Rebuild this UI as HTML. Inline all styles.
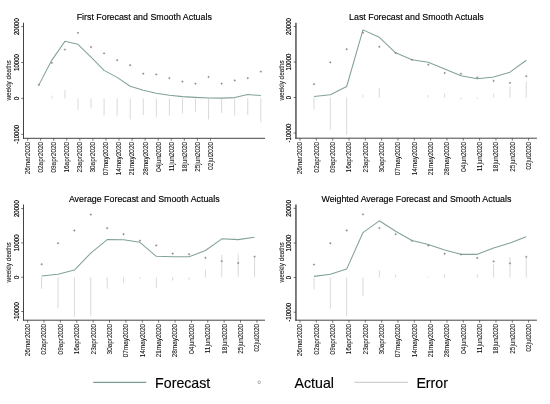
<!DOCTYPE html>
<html><head><meta charset="utf-8"><title>Forecast and Smooth Actuals</title>
<style>html,body{margin:0;padding:0;background:#fff;}svg{display:block}text{font-family:"Liberation Sans",Arial,sans-serif;fill:#000;stroke:#000;stroke-width:0.15px}.xl{stroke-width:0.05px;fill:#111}</style></head><body>
<svg width="550" height="404" viewBox="0 0 550 404">
<rect width="550" height="404" fill="#fff"/>
<g>
<text transform="translate(144.25,20.30) scale(1,1.08)" font-size="8.85" text-anchor="middle">First Forecast and Smooth Actuals</text>
<line x1="38.79" y1="98.40" x2="38.79" y2="98.62" stroke="#cccccc" stroke-width="0.75"/>
<line x1="51.85" y1="98.40" x2="51.85" y2="95.64" stroke="#cccccc" stroke-width="0.75"/>
<line x1="64.91" y1="98.40" x2="64.91" y2="90.18" stroke="#cccccc" stroke-width="0.75"/>
<line x1="77.97" y1="98.40" x2="77.97" y2="109.89" stroke="#cccccc" stroke-width="0.75"/>
<line x1="91.03" y1="98.40" x2="91.03" y2="108.45" stroke="#cccccc" stroke-width="0.75"/>
<line x1="104.09" y1="98.40" x2="104.09" y2="115.42" stroke="#cccccc" stroke-width="0.75"/>
<line x1="117.15" y1="98.40" x2="117.15" y2="115.63" stroke="#cccccc" stroke-width="0.75"/>
<line x1="130.21" y1="98.40" x2="130.21" y2="119.44" stroke="#cccccc" stroke-width="0.75"/>
<line x1="143.27" y1="98.40" x2="143.27" y2="115.09" stroke="#cccccc" stroke-width="0.75"/>
<line x1="156.33" y1="98.40" x2="156.33" y2="117.28" stroke="#cccccc" stroke-width="0.75"/>
<line x1="169.39" y1="98.40" x2="169.39" y2="115.56" stroke="#cccccc" stroke-width="0.75"/>
<line x1="182.45" y1="98.40" x2="182.45" y2="113.41" stroke="#cccccc" stroke-width="0.75"/>
<line x1="195.51" y1="98.40" x2="195.51" y2="112.19" stroke="#cccccc" stroke-width="0.75"/>
<line x1="208.57" y1="98.40" x2="208.57" y2="119.40" stroke="#cccccc" stroke-width="0.75"/>
<line x1="221.63" y1="98.40" x2="221.63" y2="112.90" stroke="#cccccc" stroke-width="0.75"/>
<line x1="234.69" y1="98.40" x2="234.69" y2="115.60" stroke="#cccccc" stroke-width="0.75"/>
<line x1="247.75" y1="98.40" x2="247.75" y2="114.88" stroke="#cccccc" stroke-width="0.75"/>
<line x1="260.81" y1="98.40" x2="260.81" y2="122.38" stroke="#cccccc" stroke-width="0.75"/>
<polyline points="38.79,85.12 51.85,60.09 64.91,41.35 77.97,44.33 91.03,57.12 104.09,70.40 117.15,77.40 130.21,86.19 143.27,90.32 156.33,93.30 169.39,95.28 182.45,96.61 195.51,97.39 208.57,97.90 221.63,98.11 234.69,97.61 247.75,94.59 260.81,95.60" fill="none" stroke="#82a298" stroke-width="1.05" stroke-linejoin="round"/>
<circle cx="38.79" cy="84.90" r="0.7" fill="#a0a0a0" stroke="#7c7c7c" stroke-width="0.55"/>
<circle cx="51.85" cy="62.86" r="0.7" fill="#a0a0a0" stroke="#7c7c7c" stroke-width="0.55"/>
<circle cx="64.91" cy="49.58" r="0.7" fill="#a0a0a0" stroke="#7c7c7c" stroke-width="0.55"/>
<circle cx="77.97" cy="32.85" r="0.7" fill="#a0a0a0" stroke="#7c7c7c" stroke-width="0.55"/>
<circle cx="91.03" cy="47.06" r="0.7" fill="#a0a0a0" stroke="#7c7c7c" stroke-width="0.55"/>
<circle cx="104.09" cy="53.38" r="0.7" fill="#a0a0a0" stroke="#7c7c7c" stroke-width="0.55"/>
<circle cx="117.15" cy="60.17" r="0.7" fill="#a0a0a0" stroke="#7c7c7c" stroke-width="0.55"/>
<circle cx="130.21" cy="65.16" r="0.7" fill="#a0a0a0" stroke="#7c7c7c" stroke-width="0.55"/>
<circle cx="143.27" cy="73.63" r="0.7" fill="#a0a0a0" stroke="#7c7c7c" stroke-width="0.55"/>
<circle cx="156.33" cy="74.42" r="0.7" fill="#a0a0a0" stroke="#7c7c7c" stroke-width="0.55"/>
<circle cx="169.39" cy="78.12" r="0.7" fill="#a0a0a0" stroke="#7c7c7c" stroke-width="0.55"/>
<circle cx="182.45" cy="81.60" r="0.7" fill="#a0a0a0" stroke="#7c7c7c" stroke-width="0.55"/>
<circle cx="195.51" cy="83.61" r="0.7" fill="#a0a0a0" stroke="#7c7c7c" stroke-width="0.55"/>
<circle cx="208.57" cy="76.90" r="0.7" fill="#a0a0a0" stroke="#7c7c7c" stroke-width="0.55"/>
<circle cx="221.63" cy="83.61" r="0.7" fill="#a0a0a0" stroke="#7c7c7c" stroke-width="0.55"/>
<circle cx="234.69" cy="80.41" r="0.7" fill="#a0a0a0" stroke="#7c7c7c" stroke-width="0.55"/>
<circle cx="247.75" cy="78.12" r="0.7" fill="#a0a0a0" stroke="#7c7c7c" stroke-width="0.55"/>
<circle cx="260.81" cy="71.62" r="0.7" fill="#a0a0a0" stroke="#7c7c7c" stroke-width="0.55"/>
<line x1="23.5" y1="22.7" x2="23.5" y2="138.77" stroke="#3a3a3a" stroke-width="0.95"/>
<line x1="23.02" y1="138.3" x2="265.0" y2="138.3" stroke="#3a3a3a" stroke-width="0.95"/>
<line x1="21.20" y1="26.60" x2="23.5" y2="26.60" stroke="#3a3a3a" stroke-width="0.7"/>
<text transform="translate(18.50,26.60) rotate(-90) scale(1,1.18)" font-size="6.1" text-anchor="middle">20000</text>
<line x1="21.20" y1="62.50" x2="23.5" y2="62.50" stroke="#3a3a3a" stroke-width="0.7"/>
<text transform="translate(18.50,62.50) rotate(-90) scale(1,1.18)" font-size="6.1" text-anchor="middle">10000</text>
<line x1="21.20" y1="98.40" x2="23.5" y2="98.40" stroke="#3a3a3a" stroke-width="0.7"/>
<text transform="translate(18.50,98.40) rotate(-90) scale(1,1.18)" font-size="6.1" text-anchor="middle">0</text>
<line x1="21.20" y1="134.30" x2="23.5" y2="134.30" stroke="#3a3a3a" stroke-width="0.7"/>
<text transform="translate(18.50,134.30) rotate(-90) scale(1,1.18)" font-size="6.1" text-anchor="middle">-10000</text>
<text transform="translate(11.40,80.50) rotate(-90)" font-size="6.35" text-anchor="middle" class="xl">weekly deaths</text>
<line x1="27.60" y1="138.3" x2="27.60" y2="140.70" stroke="#3a3a3a" stroke-width="0.7"/>
<text transform="translate(30.00,141.95) rotate(-90) scale(1,1.1)" font-size="6.4" text-anchor="end" class="xl">26mar2020</text>
<line x1="40.66" y1="138.3" x2="40.66" y2="140.70" stroke="#3a3a3a" stroke-width="0.7"/>
<text transform="translate(43.06,141.95) rotate(-90) scale(1,1.1)" font-size="6.4" text-anchor="end" class="xl">02apr2020</text>
<line x1="53.72" y1="138.3" x2="53.72" y2="140.70" stroke="#3a3a3a" stroke-width="0.7"/>
<text transform="translate(56.12,141.95) rotate(-90) scale(1,1.1)" font-size="6.4" text-anchor="end" class="xl">09apr2020</text>
<line x1="66.78" y1="138.3" x2="66.78" y2="140.70" stroke="#3a3a3a" stroke-width="0.7"/>
<text transform="translate(69.18,141.95) rotate(-90) scale(1,1.1)" font-size="6.4" text-anchor="end" class="xl">16apr2020</text>
<line x1="79.84" y1="138.3" x2="79.84" y2="140.70" stroke="#3a3a3a" stroke-width="0.7"/>
<text transform="translate(82.24,141.95) rotate(-90) scale(1,1.1)" font-size="6.4" text-anchor="end" class="xl">23apr2020</text>
<line x1="92.90" y1="138.3" x2="92.90" y2="140.70" stroke="#3a3a3a" stroke-width="0.7"/>
<text transform="translate(95.30,141.95) rotate(-90) scale(1,1.1)" font-size="6.4" text-anchor="end" class="xl">30apr2020</text>
<line x1="105.96" y1="138.3" x2="105.96" y2="140.70" stroke="#3a3a3a" stroke-width="0.7"/>
<text transform="translate(108.36,141.95) rotate(-90) scale(1,1.1)" font-size="6.4" text-anchor="end" class="xl">07may2020</text>
<line x1="119.02" y1="138.3" x2="119.02" y2="140.70" stroke="#3a3a3a" stroke-width="0.7"/>
<text transform="translate(121.42,141.95) rotate(-90) scale(1,1.1)" font-size="6.4" text-anchor="end" class="xl">14may2020</text>
<line x1="132.08" y1="138.3" x2="132.08" y2="140.70" stroke="#3a3a3a" stroke-width="0.7"/>
<text transform="translate(134.48,141.95) rotate(-90) scale(1,1.1)" font-size="6.4" text-anchor="end" class="xl">21may2020</text>
<line x1="145.14" y1="138.3" x2="145.14" y2="140.70" stroke="#3a3a3a" stroke-width="0.7"/>
<text transform="translate(147.54,141.95) rotate(-90) scale(1,1.1)" font-size="6.4" text-anchor="end" class="xl">28may2020</text>
<line x1="158.20" y1="138.3" x2="158.20" y2="140.70" stroke="#3a3a3a" stroke-width="0.7"/>
<text transform="translate(160.60,141.95) rotate(-90) scale(1,1.1)" font-size="6.4" text-anchor="end" class="xl">04jun2020</text>
<line x1="171.26" y1="138.3" x2="171.26" y2="140.70" stroke="#3a3a3a" stroke-width="0.7"/>
<text transform="translate(173.66,141.95) rotate(-90) scale(1,1.1)" font-size="6.4" text-anchor="end" class="xl">11jun2020</text>
<line x1="184.32" y1="138.3" x2="184.32" y2="140.70" stroke="#3a3a3a" stroke-width="0.7"/>
<text transform="translate(186.72,141.95) rotate(-90) scale(1,1.1)" font-size="6.4" text-anchor="end" class="xl">18jun2020</text>
<line x1="197.38" y1="138.3" x2="197.38" y2="140.70" stroke="#3a3a3a" stroke-width="0.7"/>
<text transform="translate(199.78,141.95) rotate(-90) scale(1,1.1)" font-size="6.4" text-anchor="end" class="xl">25jun2020</text>
<line x1="210.44" y1="138.3" x2="210.44" y2="140.70" stroke="#3a3a3a" stroke-width="0.7"/>
<text transform="translate(212.84,141.95) rotate(-90) scale(1,1.1)" font-size="6.4" text-anchor="end" class="xl">02jul2020</text>
</g>
<g>
<text transform="translate(416.42,20.30) scale(1,1.08)" font-size="8.85" text-anchor="middle">Last Forecast and Smooth Actuals</text>
<line x1="314.00" y1="97.50" x2="314.00" y2="109.78" stroke="#cccccc" stroke-width="0.75"/>
<line x1="330.33" y1="97.50" x2="330.33" y2="129.81" stroke="#cccccc" stroke-width="0.75"/>
<line x1="346.66" y1="97.50" x2="346.66" y2="134.78" stroke="#cccccc" stroke-width="0.75"/>
<line x1="362.99" y1="97.50" x2="362.99" y2="94.70" stroke="#cccccc" stroke-width="0.75"/>
<line x1="379.32" y1="97.50" x2="379.32" y2="88.09" stroke="#cccccc" stroke-width="0.75"/>
<line x1="395.65" y1="97.50" x2="395.65" y2="97.36" stroke="#cccccc" stroke-width="0.75"/>
<line x1="411.98" y1="97.50" x2="411.98" y2="97.54" stroke="#cccccc" stroke-width="0.75"/>
<line x1="428.31" y1="97.50" x2="428.31" y2="95.09" stroke="#cccccc" stroke-width="0.75"/>
<line x1="444.64" y1="97.50" x2="444.64" y2="93.59" stroke="#cccccc" stroke-width="0.75"/>
<line x1="460.97" y1="97.50" x2="460.97" y2="99.52" stroke="#cccccc" stroke-width="0.75"/>
<line x1="477.30" y1="97.50" x2="477.30" y2="98.81" stroke="#cccccc" stroke-width="0.75"/>
<line x1="493.63" y1="97.50" x2="493.63" y2="93.70" stroke="#cccccc" stroke-width="0.75"/>
<line x1="509.96" y1="97.50" x2="509.96" y2="86.78" stroke="#cccccc" stroke-width="0.75"/>
<line x1="526.29" y1="97.50" x2="526.29" y2="81.49" stroke="#cccccc" stroke-width="0.75"/>
<polyline points="314.00,96.44 330.33,94.66 346.66,86.50 362.99,29.87 379.32,37.33 395.65,52.84 411.98,59.73 428.31,62.21 444.64,69.10 460.97,75.81 477.30,78.76 493.63,77.09 509.96,72.15 526.29,60.23" fill="none" stroke="#82a298" stroke-width="1.05" stroke-linejoin="round"/>
<circle cx="314.00" cy="84.15" r="0.7" fill="#a0a0a0" stroke="#7c7c7c" stroke-width="0.55"/>
<circle cx="330.33" cy="62.35" r="0.7" fill="#a0a0a0" stroke="#7c7c7c" stroke-width="0.55"/>
<circle cx="346.66" cy="49.22" r="0.7" fill="#a0a0a0" stroke="#7c7c7c" stroke-width="0.55"/>
<circle cx="362.99" cy="32.68" r="0.7" fill="#a0a0a0" stroke="#7c7c7c" stroke-width="0.55"/>
<circle cx="379.32" cy="46.73" r="0.7" fill="#a0a0a0" stroke="#7c7c7c" stroke-width="0.55"/>
<circle cx="395.65" cy="52.98" r="0.7" fill="#a0a0a0" stroke="#7c7c7c" stroke-width="0.55"/>
<circle cx="411.98" cy="59.69" r="0.7" fill="#a0a0a0" stroke="#7c7c7c" stroke-width="0.55"/>
<circle cx="428.31" cy="64.63" r="0.7" fill="#a0a0a0" stroke="#7c7c7c" stroke-width="0.55"/>
<circle cx="444.64" cy="73.00" r="0.7" fill="#a0a0a0" stroke="#7c7c7c" stroke-width="0.55"/>
<circle cx="460.97" cy="73.79" r="0.7" fill="#a0a0a0" stroke="#7c7c7c" stroke-width="0.55"/>
<circle cx="477.30" cy="77.44" r="0.7" fill="#a0a0a0" stroke="#7c7c7c" stroke-width="0.55"/>
<circle cx="493.63" cy="80.89" r="0.7" fill="#a0a0a0" stroke="#7c7c7c" stroke-width="0.55"/>
<circle cx="509.96" cy="82.87" r="0.7" fill="#a0a0a0" stroke="#7c7c7c" stroke-width="0.55"/>
<circle cx="526.29" cy="76.24" r="0.7" fill="#a0a0a0" stroke="#7c7c7c" stroke-width="0.55"/>
<line x1="295.95" y1="22.7" x2="295.95" y2="138.67" stroke="#3a3a3a" stroke-width="1.3"/>
<line x1="295.30" y1="138.2" x2="536.9" y2="138.2" stroke="#3a3a3a" stroke-width="0.95"/>
<line x1="293.65" y1="26.50" x2="295.95" y2="26.50" stroke="#3a3a3a" stroke-width="0.7"/>
<text transform="translate(290.95,26.50) rotate(-90) scale(1,1.18)" font-size="6.1" text-anchor="middle">20000</text>
<line x1="293.65" y1="62.00" x2="295.95" y2="62.00" stroke="#3a3a3a" stroke-width="0.7"/>
<text transform="translate(290.95,62.00) rotate(-90) scale(1,1.18)" font-size="6.1" text-anchor="middle">10000</text>
<line x1="293.65" y1="97.50" x2="295.95" y2="97.50" stroke="#3a3a3a" stroke-width="0.7"/>
<text transform="translate(290.95,97.50) rotate(-90) scale(1,1.18)" font-size="6.1" text-anchor="middle">0</text>
<line x1="293.65" y1="133.00" x2="295.95" y2="133.00" stroke="#3a3a3a" stroke-width="0.7"/>
<text transform="translate(290.95,133.00) rotate(-90) scale(1,1.18)" font-size="6.1" text-anchor="middle">-10000</text>
<text transform="translate(283.85,80.45) rotate(-90)" font-size="6.35" text-anchor="middle" class="xl">weekly deaths</text>
<line x1="300.00" y1="138.2" x2="300.00" y2="140.60" stroke="#3a3a3a" stroke-width="0.7"/>
<text transform="translate(302.40,141.85) rotate(-90) scale(1,1.1)" font-size="6.4" text-anchor="end" class="xl">26mar2020</text>
<line x1="316.33" y1="138.2" x2="316.33" y2="140.60" stroke="#3a3a3a" stroke-width="0.7"/>
<text transform="translate(318.73,141.85) rotate(-90) scale(1,1.1)" font-size="6.4" text-anchor="end" class="xl">02apr2020</text>
<line x1="332.66" y1="138.2" x2="332.66" y2="140.60" stroke="#3a3a3a" stroke-width="0.7"/>
<text transform="translate(335.06,141.85) rotate(-90) scale(1,1.1)" font-size="6.4" text-anchor="end" class="xl">09apr2020</text>
<line x1="348.99" y1="138.2" x2="348.99" y2="140.60" stroke="#3a3a3a" stroke-width="0.7"/>
<text transform="translate(351.39,141.85) rotate(-90) scale(1,1.1)" font-size="6.4" text-anchor="end" class="xl">16apr2020</text>
<line x1="365.32" y1="138.2" x2="365.32" y2="140.60" stroke="#3a3a3a" stroke-width="0.7"/>
<text transform="translate(367.72,141.85) rotate(-90) scale(1,1.1)" font-size="6.4" text-anchor="end" class="xl">23apr2020</text>
<line x1="381.65" y1="138.2" x2="381.65" y2="140.60" stroke="#3a3a3a" stroke-width="0.7"/>
<text transform="translate(384.05,141.85) rotate(-90) scale(1,1.1)" font-size="6.4" text-anchor="end" class="xl">30apr2020</text>
<line x1="397.98" y1="138.2" x2="397.98" y2="140.60" stroke="#3a3a3a" stroke-width="0.7"/>
<text transform="translate(400.38,141.85) rotate(-90) scale(1,1.1)" font-size="6.4" text-anchor="end" class="xl">07may2020</text>
<line x1="414.31" y1="138.2" x2="414.31" y2="140.60" stroke="#3a3a3a" stroke-width="0.7"/>
<text transform="translate(416.71,141.85) rotate(-90) scale(1,1.1)" font-size="6.4" text-anchor="end" class="xl">14may2020</text>
<line x1="430.64" y1="138.2" x2="430.64" y2="140.60" stroke="#3a3a3a" stroke-width="0.7"/>
<text transform="translate(433.04,141.85) rotate(-90) scale(1,1.1)" font-size="6.4" text-anchor="end" class="xl">21may2020</text>
<line x1="446.97" y1="138.2" x2="446.97" y2="140.60" stroke="#3a3a3a" stroke-width="0.7"/>
<text transform="translate(449.37,141.85) rotate(-90) scale(1,1.1)" font-size="6.4" text-anchor="end" class="xl">28may2020</text>
<line x1="463.30" y1="138.2" x2="463.30" y2="140.60" stroke="#3a3a3a" stroke-width="0.7"/>
<text transform="translate(465.70,141.85) rotate(-90) scale(1,1.1)" font-size="6.4" text-anchor="end" class="xl">04jun2020</text>
<line x1="479.63" y1="138.2" x2="479.63" y2="140.60" stroke="#3a3a3a" stroke-width="0.7"/>
<text transform="translate(482.03,141.85) rotate(-90) scale(1,1.1)" font-size="6.4" text-anchor="end" class="xl">11jun2020</text>
<line x1="495.96" y1="138.2" x2="495.96" y2="140.60" stroke="#3a3a3a" stroke-width="0.7"/>
<text transform="translate(498.36,141.85) rotate(-90) scale(1,1.1)" font-size="6.4" text-anchor="end" class="xl">18jun2020</text>
<line x1="512.29" y1="138.2" x2="512.29" y2="140.60" stroke="#3a3a3a" stroke-width="0.7"/>
<text transform="translate(514.69,141.85) rotate(-90) scale(1,1.1)" font-size="6.4" text-anchor="end" class="xl">25jun2020</text>
<line x1="528.62" y1="138.2" x2="528.62" y2="140.60" stroke="#3a3a3a" stroke-width="0.7"/>
<text transform="translate(531.02,141.85) rotate(-90) scale(1,1.1)" font-size="6.4" text-anchor="end" class="xl">02jul2020</text>
</g>
<g>
<text transform="translate(144.25,201.50) scale(1,1.08)" font-size="8.85" text-anchor="middle">Average Forecast and Smooth Actuals</text>
<line x1="41.64" y1="277.20" x2="41.64" y2="288.90" stroke="#cccccc" stroke-width="0.75"/>
<line x1="58.02" y1="277.20" x2="58.02" y2="308.17" stroke="#cccccc" stroke-width="0.75"/>
<line x1="74.40" y1="277.20" x2="74.40" y2="316.68" stroke="#cccccc" stroke-width="0.75"/>
<line x1="90.78" y1="277.20" x2="90.78" y2="315.68" stroke="#cccccc" stroke-width="0.75"/>
<line x1="107.16" y1="277.20" x2="107.16" y2="288.66" stroke="#cccccc" stroke-width="0.75"/>
<line x1="123.54" y1="277.20" x2="123.54" y2="282.83" stroke="#cccccc" stroke-width="0.75"/>
<line x1="139.92" y1="277.20" x2="139.92" y2="278.85" stroke="#cccccc" stroke-width="0.75"/>
<line x1="156.30" y1="277.20" x2="156.30" y2="288.07" stroke="#cccccc" stroke-width="0.75"/>
<line x1="172.68" y1="277.20" x2="172.68" y2="280.49" stroke="#cccccc" stroke-width="0.75"/>
<line x1="189.06" y1="277.20" x2="189.06" y2="279.74" stroke="#cccccc" stroke-width="0.75"/>
<line x1="205.44" y1="277.20" x2="205.44" y2="269.93" stroke="#cccccc" stroke-width="0.75"/>
<line x1="221.82" y1="277.20" x2="221.82" y2="254.87" stroke="#cccccc" stroke-width="0.75"/>
<line x1="238.20" y1="277.20" x2="238.20" y2="253.74" stroke="#cccccc" stroke-width="0.75"/>
<line x1="254.58" y1="277.20" x2="254.58" y2="257.89" stroke="#cccccc" stroke-width="0.75"/>
<polyline points="41.64,276.00 58.02,274.22 74.40,270.03 90.78,253.05 107.16,239.61 123.54,239.81 139.92,242.32 156.30,256.31 172.68,256.83 189.06,256.83 205.44,250.55 221.82,238.82 238.20,239.61 254.58,237.34" fill="none" stroke="#82a298" stroke-width="1.05" stroke-linejoin="round"/>
<circle cx="41.64" cy="264.30" r="0.7" fill="#a0a0a0" stroke="#7c7c7c" stroke-width="0.55"/>
<circle cx="58.02" cy="243.24" r="0.7" fill="#a0a0a0" stroke="#7c7c7c" stroke-width="0.55"/>
<circle cx="74.40" cy="230.55" r="0.7" fill="#a0a0a0" stroke="#7c7c7c" stroke-width="0.55"/>
<circle cx="90.78" cy="214.57" r="0.7" fill="#a0a0a0" stroke="#7c7c7c" stroke-width="0.55"/>
<circle cx="107.16" cy="228.15" r="0.7" fill="#a0a0a0" stroke="#7c7c7c" stroke-width="0.55"/>
<circle cx="123.54" cy="234.19" r="0.7" fill="#a0a0a0" stroke="#7c7c7c" stroke-width="0.55"/>
<circle cx="139.92" cy="240.67" r="0.7" fill="#a0a0a0" stroke="#7c7c7c" stroke-width="0.55"/>
<circle cx="156.30" cy="245.44" r="0.7" fill="#a0a0a0" stroke="#7c7c7c" stroke-width="0.55"/>
<circle cx="172.68" cy="253.53" r="0.7" fill="#a0a0a0" stroke="#7c7c7c" stroke-width="0.55"/>
<circle cx="189.06" cy="254.29" r="0.7" fill="#a0a0a0" stroke="#7c7c7c" stroke-width="0.55"/>
<circle cx="205.44" cy="257.82" r="0.7" fill="#a0a0a0" stroke="#7c7c7c" stroke-width="0.55"/>
<circle cx="221.82" cy="261.15" r="0.7" fill="#a0a0a0" stroke="#7c7c7c" stroke-width="0.55"/>
<circle cx="238.20" cy="263.07" r="0.7" fill="#a0a0a0" stroke="#7c7c7c" stroke-width="0.55"/>
<circle cx="254.58" cy="256.65" r="0.7" fill="#a0a0a0" stroke="#7c7c7c" stroke-width="0.55"/>
<line x1="23.5" y1="204.5" x2="23.5" y2="320.67" stroke="#3a3a3a" stroke-width="0.95"/>
<line x1="23.02" y1="320.2" x2="265.0" y2="320.2" stroke="#3a3a3a" stroke-width="0.95"/>
<line x1="21.20" y1="208.60" x2="23.5" y2="208.60" stroke="#3a3a3a" stroke-width="0.7"/>
<text transform="translate(18.50,208.60) rotate(-90) scale(1,1.18)" font-size="6.1" text-anchor="middle">20000</text>
<line x1="21.20" y1="242.90" x2="23.5" y2="242.90" stroke="#3a3a3a" stroke-width="0.7"/>
<text transform="translate(18.50,242.90) rotate(-90) scale(1,1.18)" font-size="6.1" text-anchor="middle">10000</text>
<line x1="21.20" y1="277.20" x2="23.5" y2="277.20" stroke="#3a3a3a" stroke-width="0.7"/>
<text transform="translate(18.50,277.20) rotate(-90) scale(1,1.18)" font-size="6.1" text-anchor="middle">0</text>
<line x1="21.20" y1="311.50" x2="23.5" y2="311.50" stroke="#3a3a3a" stroke-width="0.7"/>
<text transform="translate(18.50,311.50) rotate(-90) scale(1,1.18)" font-size="6.1" text-anchor="middle">-10000</text>
<text transform="translate(11.40,262.35) rotate(-90)" font-size="6.35" text-anchor="middle" class="xl">weekly deaths</text>
<line x1="27.60" y1="320.2" x2="27.60" y2="322.60" stroke="#3a3a3a" stroke-width="0.7"/>
<text transform="translate(30.00,323.85) rotate(-90) scale(1,1.1)" font-size="6.4" text-anchor="end" class="xl">26mar2020</text>
<line x1="43.98" y1="320.2" x2="43.98" y2="322.60" stroke="#3a3a3a" stroke-width="0.7"/>
<text transform="translate(46.38,323.85) rotate(-90) scale(1,1.1)" font-size="6.4" text-anchor="end" class="xl">02apr2020</text>
<line x1="60.36" y1="320.2" x2="60.36" y2="322.60" stroke="#3a3a3a" stroke-width="0.7"/>
<text transform="translate(62.76,323.85) rotate(-90) scale(1,1.1)" font-size="6.4" text-anchor="end" class="xl">09apr2020</text>
<line x1="76.74" y1="320.2" x2="76.74" y2="322.60" stroke="#3a3a3a" stroke-width="0.7"/>
<text transform="translate(79.14,323.85) rotate(-90) scale(1,1.1)" font-size="6.4" text-anchor="end" class="xl">16apr2020</text>
<line x1="93.12" y1="320.2" x2="93.12" y2="322.60" stroke="#3a3a3a" stroke-width="0.7"/>
<text transform="translate(95.52,323.85) rotate(-90) scale(1,1.1)" font-size="6.4" text-anchor="end" class="xl">23apr2020</text>
<line x1="109.50" y1="320.2" x2="109.50" y2="322.60" stroke="#3a3a3a" stroke-width="0.7"/>
<text transform="translate(111.90,323.85) rotate(-90) scale(1,1.1)" font-size="6.4" text-anchor="end" class="xl">30apr2020</text>
<line x1="125.88" y1="320.2" x2="125.88" y2="322.60" stroke="#3a3a3a" stroke-width="0.7"/>
<text transform="translate(128.28,323.85) rotate(-90) scale(1,1.1)" font-size="6.4" text-anchor="end" class="xl">07may2020</text>
<line x1="142.26" y1="320.2" x2="142.26" y2="322.60" stroke="#3a3a3a" stroke-width="0.7"/>
<text transform="translate(144.66,323.85) rotate(-90) scale(1,1.1)" font-size="6.4" text-anchor="end" class="xl">14may2020</text>
<line x1="158.64" y1="320.2" x2="158.64" y2="322.60" stroke="#3a3a3a" stroke-width="0.7"/>
<text transform="translate(161.04,323.85) rotate(-90) scale(1,1.1)" font-size="6.4" text-anchor="end" class="xl">21may2020</text>
<line x1="175.02" y1="320.2" x2="175.02" y2="322.60" stroke="#3a3a3a" stroke-width="0.7"/>
<text transform="translate(177.42,323.85) rotate(-90) scale(1,1.1)" font-size="6.4" text-anchor="end" class="xl">28may2020</text>
<line x1="191.40" y1="320.2" x2="191.40" y2="322.60" stroke="#3a3a3a" stroke-width="0.7"/>
<text transform="translate(193.80,323.85) rotate(-90) scale(1,1.1)" font-size="6.4" text-anchor="end" class="xl">04jun2020</text>
<line x1="207.78" y1="320.2" x2="207.78" y2="322.60" stroke="#3a3a3a" stroke-width="0.7"/>
<text transform="translate(210.18,323.85) rotate(-90) scale(1,1.1)" font-size="6.4" text-anchor="end" class="xl">11jun2020</text>
<line x1="224.16" y1="320.2" x2="224.16" y2="322.60" stroke="#3a3a3a" stroke-width="0.7"/>
<text transform="translate(226.56,323.85) rotate(-90) scale(1,1.1)" font-size="6.4" text-anchor="end" class="xl">18jun2020</text>
<line x1="240.54" y1="320.2" x2="240.54" y2="322.60" stroke="#3a3a3a" stroke-width="0.7"/>
<text transform="translate(242.94,323.85) rotate(-90) scale(1,1.1)" font-size="6.4" text-anchor="end" class="xl">25jun2020</text>
<line x1="256.92" y1="320.2" x2="256.92" y2="322.60" stroke="#3a3a3a" stroke-width="0.7"/>
<text transform="translate(259.32,323.85) rotate(-90) scale(1,1.1)" font-size="6.4" text-anchor="end" class="xl">02jul2020</text>
</g>
<g>
<text transform="translate(416.42,201.50) scale(1,1.08)" font-size="8.85" text-anchor="middle">Weighted Average Forecast and Smooth Actuals</text>
<line x1="314.00" y1="277.60" x2="314.00" y2="289.41" stroke="#cccccc" stroke-width="0.75"/>
<line x1="330.33" y1="277.60" x2="330.33" y2="308.59" stroke="#cccccc" stroke-width="0.75"/>
<line x1="346.66" y1="277.60" x2="346.66" y2="316.21" stroke="#cccccc" stroke-width="0.75"/>
<line x1="362.99" y1="277.60" x2="362.99" y2="295.82" stroke="#cccccc" stroke-width="0.75"/>
<line x1="379.32" y1="277.60" x2="379.32" y2="270.33" stroke="#cccccc" stroke-width="0.75"/>
<line x1="395.65" y1="277.60" x2="395.65" y2="274.73" stroke="#cccccc" stroke-width="0.75"/>
<line x1="411.98" y1="277.60" x2="411.98" y2="277.43" stroke="#cccccc" stroke-width="0.75"/>
<line x1="428.31" y1="277.60" x2="428.31" y2="276.63" stroke="#cccccc" stroke-width="0.75"/>
<line x1="444.64" y1="277.60" x2="444.64" y2="273.96" stroke="#cccccc" stroke-width="0.75"/>
<line x1="460.97" y1="277.60" x2="460.97" y2="277.50" stroke="#cccccc" stroke-width="0.75"/>
<line x1="477.30" y1="277.60" x2="477.30" y2="273.93" stroke="#cccccc" stroke-width="0.75"/>
<line x1="493.63" y1="277.60" x2="493.63" y2="264.27" stroke="#cccccc" stroke-width="0.75"/>
<line x1="509.96" y1="277.60" x2="509.96" y2="257.34" stroke="#cccccc" stroke-width="0.75"/>
<line x1="526.29" y1="277.60" x2="526.29" y2="257.51" stroke="#cccccc" stroke-width="0.75"/>
<polyline points="314.00,276.39 330.33,274.31 346.66,269.12 362.99,232.58 379.32,220.81 395.65,231.30 411.98,240.55 428.31,244.56 444.64,250.07 460.97,254.36 477.30,254.36 493.63,248.06 509.96,243.07 526.29,236.77" fill="none" stroke="#82a298" stroke-width="1.05" stroke-linejoin="round"/>
<circle cx="314.00" cy="264.58" r="0.7" fill="#a0a0a0" stroke="#7c7c7c" stroke-width="0.55"/>
<circle cx="330.33" cy="243.32" r="0.7" fill="#a0a0a0" stroke="#7c7c7c" stroke-width="0.55"/>
<circle cx="346.66" cy="230.50" r="0.7" fill="#a0a0a0" stroke="#7c7c7c" stroke-width="0.55"/>
<circle cx="362.99" cy="214.37" r="0.7" fill="#a0a0a0" stroke="#7c7c7c" stroke-width="0.55"/>
<circle cx="379.32" cy="228.08" r="0.7" fill="#a0a0a0" stroke="#7c7c7c" stroke-width="0.55"/>
<circle cx="395.65" cy="234.17" r="0.7" fill="#a0a0a0" stroke="#7c7c7c" stroke-width="0.55"/>
<circle cx="411.98" cy="240.72" r="0.7" fill="#a0a0a0" stroke="#7c7c7c" stroke-width="0.55"/>
<circle cx="428.31" cy="245.53" r="0.7" fill="#a0a0a0" stroke="#7c7c7c" stroke-width="0.55"/>
<circle cx="444.64" cy="253.71" r="0.7" fill="#a0a0a0" stroke="#7c7c7c" stroke-width="0.55"/>
<circle cx="460.97" cy="254.47" r="0.7" fill="#a0a0a0" stroke="#7c7c7c" stroke-width="0.55"/>
<circle cx="477.30" cy="258.03" r="0.7" fill="#a0a0a0" stroke="#7c7c7c" stroke-width="0.55"/>
<circle cx="493.63" cy="261.39" r="0.7" fill="#a0a0a0" stroke="#7c7c7c" stroke-width="0.55"/>
<circle cx="509.96" cy="263.33" r="0.7" fill="#a0a0a0" stroke="#7c7c7c" stroke-width="0.55"/>
<circle cx="526.29" cy="256.86" r="0.7" fill="#a0a0a0" stroke="#7c7c7c" stroke-width="0.55"/>
<line x1="295.95" y1="204.5" x2="295.95" y2="320.67" stroke="#3a3a3a" stroke-width="1.3"/>
<line x1="295.30" y1="320.2" x2="536.9" y2="320.2" stroke="#3a3a3a" stroke-width="0.95"/>
<line x1="293.65" y1="208.34" x2="295.95" y2="208.34" stroke="#3a3a3a" stroke-width="0.7"/>
<text transform="translate(290.95,208.34) rotate(-90) scale(1,1.18)" font-size="6.1" text-anchor="middle">20000</text>
<line x1="293.65" y1="242.97" x2="295.95" y2="242.97" stroke="#3a3a3a" stroke-width="0.7"/>
<text transform="translate(290.95,242.97) rotate(-90) scale(1,1.18)" font-size="6.1" text-anchor="middle">10000</text>
<line x1="293.65" y1="277.60" x2="295.95" y2="277.60" stroke="#3a3a3a" stroke-width="0.7"/>
<text transform="translate(290.95,277.60) rotate(-90) scale(1,1.18)" font-size="6.1" text-anchor="middle">0</text>
<line x1="293.65" y1="312.23" x2="295.95" y2="312.23" stroke="#3a3a3a" stroke-width="0.7"/>
<text transform="translate(290.95,312.23) rotate(-90) scale(1,1.18)" font-size="6.1" text-anchor="middle">-10000</text>
<text transform="translate(283.85,262.35) rotate(-90)" font-size="6.35" text-anchor="middle" class="xl">weekly deaths</text>
<line x1="300.00" y1="320.2" x2="300.00" y2="322.60" stroke="#3a3a3a" stroke-width="0.7"/>
<text transform="translate(302.40,323.85) rotate(-90) scale(1,1.1)" font-size="6.4" text-anchor="end" class="xl">26mar2020</text>
<line x1="316.33" y1="320.2" x2="316.33" y2="322.60" stroke="#3a3a3a" stroke-width="0.7"/>
<text transform="translate(318.73,323.85) rotate(-90) scale(1,1.1)" font-size="6.4" text-anchor="end" class="xl">02apr2020</text>
<line x1="332.66" y1="320.2" x2="332.66" y2="322.60" stroke="#3a3a3a" stroke-width="0.7"/>
<text transform="translate(335.06,323.85) rotate(-90) scale(1,1.1)" font-size="6.4" text-anchor="end" class="xl">09apr2020</text>
<line x1="348.99" y1="320.2" x2="348.99" y2="322.60" stroke="#3a3a3a" stroke-width="0.7"/>
<text transform="translate(351.39,323.85) rotate(-90) scale(1,1.1)" font-size="6.4" text-anchor="end" class="xl">16apr2020</text>
<line x1="365.32" y1="320.2" x2="365.32" y2="322.60" stroke="#3a3a3a" stroke-width="0.7"/>
<text transform="translate(367.72,323.85) rotate(-90) scale(1,1.1)" font-size="6.4" text-anchor="end" class="xl">23apr2020</text>
<line x1="381.65" y1="320.2" x2="381.65" y2="322.60" stroke="#3a3a3a" stroke-width="0.7"/>
<text transform="translate(384.05,323.85) rotate(-90) scale(1,1.1)" font-size="6.4" text-anchor="end" class="xl">30apr2020</text>
<line x1="397.98" y1="320.2" x2="397.98" y2="322.60" stroke="#3a3a3a" stroke-width="0.7"/>
<text transform="translate(400.38,323.85) rotate(-90) scale(1,1.1)" font-size="6.4" text-anchor="end" class="xl">07may2020</text>
<line x1="414.31" y1="320.2" x2="414.31" y2="322.60" stroke="#3a3a3a" stroke-width="0.7"/>
<text transform="translate(416.71,323.85) rotate(-90) scale(1,1.1)" font-size="6.4" text-anchor="end" class="xl">14may2020</text>
<line x1="430.64" y1="320.2" x2="430.64" y2="322.60" stroke="#3a3a3a" stroke-width="0.7"/>
<text transform="translate(433.04,323.85) rotate(-90) scale(1,1.1)" font-size="6.4" text-anchor="end" class="xl">21may2020</text>
<line x1="446.97" y1="320.2" x2="446.97" y2="322.60" stroke="#3a3a3a" stroke-width="0.7"/>
<text transform="translate(449.37,323.85) rotate(-90) scale(1,1.1)" font-size="6.4" text-anchor="end" class="xl">28may2020</text>
<line x1="463.30" y1="320.2" x2="463.30" y2="322.60" stroke="#3a3a3a" stroke-width="0.7"/>
<text transform="translate(465.70,323.85) rotate(-90) scale(1,1.1)" font-size="6.4" text-anchor="end" class="xl">04jun2020</text>
<line x1="479.63" y1="320.2" x2="479.63" y2="322.60" stroke="#3a3a3a" stroke-width="0.7"/>
<text transform="translate(482.03,323.85) rotate(-90) scale(1,1.1)" font-size="6.4" text-anchor="end" class="xl">11jun2020</text>
<line x1="495.96" y1="320.2" x2="495.96" y2="322.60" stroke="#3a3a3a" stroke-width="0.7"/>
<text transform="translate(498.36,323.85) rotate(-90) scale(1,1.1)" font-size="6.4" text-anchor="end" class="xl">18jun2020</text>
<line x1="512.29" y1="320.2" x2="512.29" y2="322.60" stroke="#3a3a3a" stroke-width="0.7"/>
<text transform="translate(514.69,323.85) rotate(-90) scale(1,1.1)" font-size="6.4" text-anchor="end" class="xl">25jun2020</text>
<line x1="528.62" y1="320.2" x2="528.62" y2="322.60" stroke="#3a3a3a" stroke-width="0.7"/>
<text transform="translate(531.02,323.85) rotate(-90) scale(1,1.1)" font-size="6.4" text-anchor="end" class="xl">02jul2020</text>
</g>
<g>
<line x1="93.2" y1="382.3" x2="146.3" y2="382.3" stroke="#7c9d93" stroke-width="1.15"/>
<text x="155.1" y="387.7" font-size="14.2">Forecast</text>
<circle cx="259.2" cy="382.3" r="1.35" fill="#fff" stroke="#8c8c8c" stroke-width="0.7"/>
<text x="294.5" y="387.7" font-size="14.2">Actual</text>
<line x1="354.5" y1="382.3" x2="407.8" y2="382.3" stroke="#bcbcbc" stroke-width="0.9"/>
<text x="416.4" y="387.7" font-size="14.2">Error</text>
</g>
</svg></body></html>
